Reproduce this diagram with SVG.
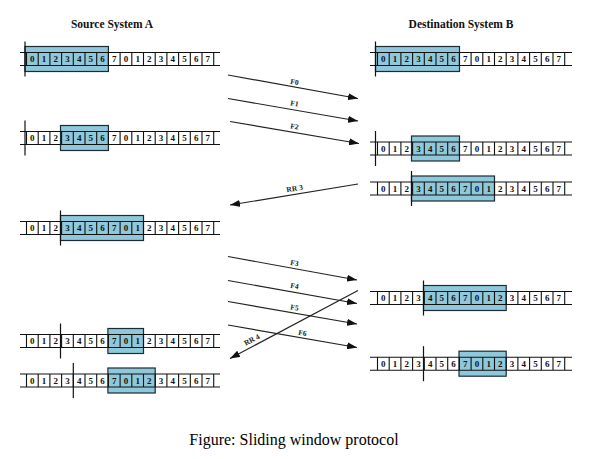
<svg xmlns="http://www.w3.org/2000/svg" xmlns:xlink="http://www.w3.org/1999/xlink" width="594" height="459" viewBox="0 0 594 459">
<style>
.win{fill:#8fc8da;stroke:#1d2b33;stroke-width:1.2}
.grid{fill:none;stroke:#111;stroke-width:1.1}
.ptr{stroke:#111;stroke-width:1.2}
.num{font-family:"Liberation Serif",serif;font-weight:bold;font-size:9px;fill:#111;text-anchor:middle}
.title{font-family:"Liberation Serif",serif;font-weight:bold;font-size:11.5px;fill:#111;text-anchor:middle}
.lbl{font-family:"Liberation Serif",serif;font-weight:bold;font-size:7.5px;fill:#222;text-anchor:middle}
.cap{font-family:"Liberation Serif",serif;font-size:16px;fill:#000;text-anchor:middle}
.arr{stroke:#222;stroke-width:1.2;fill:none;marker-end:url(#ah)}
</style>
<defs>
<marker id="ah" markerWidth="10" markerHeight="7" refX="10" refY="3.5" orient="auto" markerUnits="userSpaceOnUse"><path d="M0,0 L10,3.5 L0,7 z" fill="#111"/></marker>
<path id="sgrid" class="grid" d="M20,-6.5H220M20,6.5H220M26.5,-6.5V6.5M38.2,-6.5V6.5M49.9,-6.5V6.5M61.6,-6.5V6.5M73.3,-6.5V6.5M85,-6.5V6.5M96.7,-6.5V6.5M108.4,-6.5V6.5M120.1,-6.5V6.5M131.8,-6.5V6.5M143.5,-6.5V6.5M155.2,-6.5V6.5M166.9,-6.5V6.5M178.6,-6.5V6.5M190.3,-6.5V6.5M202,-6.5V6.5M213.7,-6.5V6.5"/>
<path id="dgrid" class="grid" d="M370,-6.5H572M370,6.5H572M377.5,-6.5V6.5M389.2,-6.5V6.5M400.9,-6.5V6.5M412.6,-6.5V6.5M424.3,-6.5V6.5M436,-6.5V6.5M447.7,-6.5V6.5M459.4,-6.5V6.5M471.1,-6.5V6.5M482.8,-6.5V6.5M494.5,-6.5V6.5M506.2,-6.5V6.5M517.9,-6.5V6.5M529.6,-6.5V6.5M541.3,-6.5V6.5M553,-6.5V6.5M564.7,-6.5V6.5"/>
</defs>
<rect width="594" height="459" fill="#fff"/>
<text class="title" x="112" y="28">Source System A</text>
<text class="title" x="461" y="28">Destination System B</text>

<g id="a1" transform="translate(0,59)">
<rect class="win" x="25" y="-12.5" width="83.4" height="25"/>
<use xlink:href="#sgrid"/>
<text class="num" y="3.2" x="32.35 44.05 55.75 67.45 79.15 90.85 102.55 114.25 125.95 137.65 149.35 161.05 172.75 184.45 196.15 207.85">0123456701234567</text>
<line class="ptr" x1="25" y1="-17.5" x2="25" y2="17.5"/>
</g>
<g id="a2" transform="translate(0,138)">
<rect class="win" x="60.5" y="-12.5" width="47.9" height="25"/>
<use xlink:href="#sgrid"/>
<text class="num" y="3.2" x="32.35 44.05 55.75 67.45 79.15 90.85 102.55 114.25 125.95 137.65 149.35 161.05 172.75 184.45 196.15 207.85">0123456701234567</text>
<line class="ptr" x1="25" y1="-17.5" x2="25" y2="17.5"/>
</g>
<g id="a3" transform="translate(0,228)">
<rect class="win" x="60.5" y="-12.5" width="83" height="25"/>
<use xlink:href="#sgrid"/>
<text class="num" y="3.2" x="32.35 44.05 55.75 67.45 79.15 90.85 102.55 114.25 125.95 137.65 149.35 161.05 172.75 184.45 196.15 207.85">0123456701234567</text>
<line class="ptr" x1="60.5" y1="-17.5" x2="60.5" y2="17.5"/>
</g>
<g id="a4" transform="translate(0,341)">
<rect class="win" x="107.9" y="-12.5" width="35.6" height="25"/>
<use xlink:href="#sgrid"/>
<text class="num" y="3.2" x="32.35 44.05 55.75 67.45 79.15 90.85 102.55 114.25 125.95 137.65 149.35 161.05 172.75 184.45 196.15 207.85">0123456701234567</text>
<line class="ptr" x1="60.5" y1="-17.5" x2="60.5" y2="17.5"/>
</g>
<g id="a5" transform="translate(0,380.5)">
<rect class="win" x="107.9" y="-12.5" width="47.3" height="25"/>
<use xlink:href="#sgrid"/>
<text class="num" y="3.2" x="32.35 44.05 55.75 67.45 79.15 90.85 102.55 114.25 125.95 137.65 149.35 161.05 172.75 184.45 196.15 207.85">0123456701234567</text>
<line class="ptr" x1="73.3" y1="-17.5" x2="73.3" y2="17.5"/>
</g>

<g id="b1" transform="translate(0,59)">
<rect class="win" x="375.5" y="-12.5" width="84" height="25"/>
<use xlink:href="#dgrid"/>
<text class="num" y="3.2" x="383.35 395.05 406.75 418.45 430.15 441.85 453.55 465.25 476.95 488.65 500.35 512.05 523.75 535.45 547.15 558.85">0123456701234567</text>
<line class="ptr" x1="375.5" y1="-17.5" x2="375.5" y2="17.5"/>
</g>
<g id="b2" transform="translate(0,148.5)">
<rect class="win" x="411.5" y="-12.5" width="48" height="25"/>
<use xlink:href="#dgrid"/>
<text class="num" y="3.2" x="383.35 395.05 406.75 418.45 430.15 441.85 453.55 465.25 476.95 488.65 500.35 512.05 523.75 535.45 547.15 558.85">0123456701234567</text>
<line class="ptr" x1="375.5" y1="-17.5" x2="375.5" y2="17.5"/>
</g>
<g id="b3" transform="translate(0,188.5)">
<rect class="win" x="411.5" y="-12.5" width="83" height="25"/>
<use xlink:href="#dgrid"/>
<text class="num" y="3.2" x="383.35 395.05 406.75 418.45 430.15 441.85 453.55 465.25 476.95 488.65 500.35 512.05 523.75 535.45 547.15 558.85">0123456701234567</text>
<line class="ptr" x1="411.5" y1="-17.5" x2="411.5" y2="17.5"/>
</g>
<g id="b4" transform="translate(0,298)">
<rect class="win" x="423.5" y="-12.5" width="82.7" height="25"/>
<use xlink:href="#dgrid"/>
<text class="num" y="3.2" x="383.35 395.05 406.75 418.45 430.15 441.85 453.55 465.25 476.95 488.65 500.35 512.05 523.75 535.45 547.15 558.85">0123456701234567</text>
<line class="ptr" x1="423.5" y1="-17.5" x2="423.5" y2="17.5"/>
</g>
<g id="b5" transform="translate(0,363.7)">
<rect class="win" x="459" y="-12.5" width="47.2" height="25"/>
<use xlink:href="#dgrid"/>
<text class="num" y="3.2" x="383.35 395.05 406.75 418.45 430.15 441.85 453.55 465.25 476.95 488.65 500.35 512.05 523.75 535.45 547.15 558.85">0123456701234567</text>
<line class="ptr" x1="423.5" y1="-17.5" x2="423.5" y2="17.5"/>
</g>

<g id="connectors">
<line class="arr" x1="228" y1="75" x2="358" y2="98.5"/>
<line class="arr" x1="228" y1="98.5" x2="358" y2="121"/>
<line class="arr" x1="230" y1="121.5" x2="359" y2="143.5"/>
<line class="arr" x1="358" y1="184" x2="230" y2="205"/>
<line class="arr" x1="228" y1="256.5" x2="357" y2="280"/>
<line class="arr" x1="228" y1="280.5" x2="357" y2="303.5"/>
<line class="arr" x1="228" y1="301.5" x2="357" y2="324"/>
<line class="arr" x1="228" y1="325" x2="357" y2="347.5"/>
<line class="arr" x1="358" y1="290.5" x2="230" y2="358.5"/>
<text class="lbl" x="294" y="84.5" transform="rotate(10.2 294 84.5)">F0</text>
<text class="lbl" x="294" y="106" transform="rotate(9.8 294 106)">F1</text>
<text class="lbl" x="294" y="129" transform="rotate(9.7 294 129)">F2</text>
<text class="lbl" x="295" y="191" transform="rotate(-9.3 295 191)">RR 3</text>
<text class="lbl" x="294" y="265.5" transform="rotate(10.3 294 265.5)">F3</text>
<text class="lbl" x="294" y="288.5" transform="rotate(10.1 294 288.5)">F4</text>
<text class="lbl" x="294" y="310" transform="rotate(9.9 294 310)">F5</text>
<text class="lbl" x="302" y="335.5" transform="rotate(9.9 302 335.5)">F6</text>
<text class="lbl" x="253" y="342" transform="rotate(-27.9 253 342)">RR 4</text>
</g>

<text class="cap" x="294" y="445">Figure: Sliding window protocol</text>
</svg>
